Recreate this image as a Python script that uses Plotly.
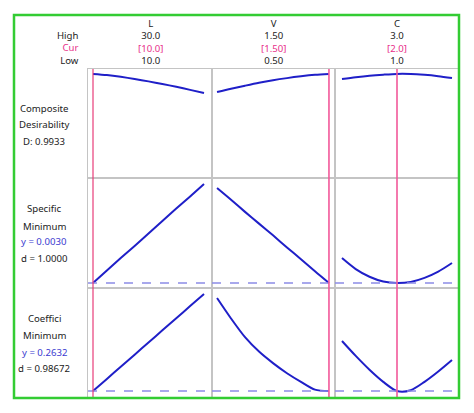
import plotly.graph_objects as go
from plotly.subplots import make_subplots

# ---------------- data ----------------
factors = ["L", "V", "C"]
high_labels = ["30.0", "1.50", "3.0"]
cur_labels = ["[10.0]", "[1.50]", "[2.0]"]
low_labels = ["10.0", "0.50", "1.0"]
cur_values = [10.0, 1.5, 2.0]

L_vals = [10.0, 12.5, 15.0, 17.5, 20.0, 22.5, 25.0, 27.5, 30.0]
V_vals = [0.5, 0.625, 0.75, 0.875, 1.0, 1.125, 1.25, 1.375, 1.5]
C_vals = [1.0, 1.25, 1.5, 1.75, 2.0, 2.25, 2.5, 2.75, 3.0]

# Composite desirability
D_L = [0.9933, 0.982, 0.965, 0.945, 0.922, 0.897, 0.870, 0.841, 0.811]
D_V = [0.8205, 0.852, 0.881, 0.909, 0.933, 0.953, 0.970, 0.984, 0.9933]
D_C = [0.945, 0.962, 0.976, 0.986, 0.9933, 0.9925, 0.984, 0.971, 0.954]

# Specific (minimum)
Spec_L = [0.0030, 0.0064, 0.0098, 0.0131, 0.0165, 0.0199, 0.0233, 0.0266, 0.0300]
Spec_V = [0.0289, 0.0257, 0.0224, 0.0192, 0.0160, 0.0127, 0.0095, 0.0062, 0.0030]
Spec_C = [0.0098, 0.0068, 0.0047, 0.0034, 0.0030, 0.0033, 0.0044, 0.0061, 0.00845]

# Coefficient (minimum)
Coef_L = [0.2632, 0.3053, 0.3474, 0.3895, 0.4316, 0.4737, 0.5158, 0.5579, 0.6000]
Coef_V = [0.586, 0.515, 0.45, 0.40, 0.36, 0.325, 0.295, 0.268, 0.2632]
Coef_C = [0.4368, 0.385, 0.337, 0.295, 0.2632, 0.266, 0.295, 0.331, 0.3708]

current_y = [0.9933, 0.0030, 0.2632]

row_labels = [
    [("Composite", "#222222"), ("Desirability", "#222222"), ("D: 0.9933", "#222222")],
    [("Specific", "#222222"), ("Minimum", "#222222"), ("y = 0.0030", "#3b3bd0"), ("d = 1.0000", "#222222")],
    [("Coeffici", "#222222"), ("Minimum", "#222222"), ("y = 0.2632", "#3b3bd0"), ("d = 0.98672", "#222222")],
]

x_data = [L_vals, V_vals, C_vals]
y_data = [[D_L, D_V, D_C], [Spec_L, Spec_V, Spec_C], [Coef_L, Coef_V, Coef_C]]

# ---------------- layout geometry ----------------
OFF = 8                      # page body margin
W, H = 474 - OFF, 413 - OFF
FONT = "Noto Sans"
FS = 9.6
PINK = "#e8308a"

x_ranges = [[9.10, 31.44], [0.455, 1.554], [0.873, 3.109]]
y_ranges = [[0.0, 1.04], [0.00164, 0.03164], [0.2424, 0.6208]]

def px(x):
    return (x - OFF) / W

def py(y):
    return 1 - (y - OFF) / H

plot_top, plot_bottom = 69, 397
col_edges = [88, 212, 335, 458]
row_edges = [69, 178, 288, 397]

fig = make_subplots(rows=3, cols=3, horizontal_spacing=0, vertical_spacing=0)

for r in range(3):
    for c in range(3):
        fig.add_trace(go.Scatter(
            x=x_data[c], y=y_data[r][c], mode="lines",
            line=dict(color="#1f1fc8", width=2, shape="spline", smoothing=0.8),
            hoverinfo="skip", showlegend=False), row=r + 1, col=c + 1)
        idx = r * 3 + c + 1
        sfx = "" if idx == 1 else str(idx)
        fig.layout["xaxis" + sfx].update(
            domain=[px(col_edges[c]), px(col_edges[c + 1])],
            range=x_ranges[c], showgrid=False, zeroline=False,
            showticklabels=False, ticks="", showline=True, mirror=True,
            linecolor="#c4c4c4", linewidth=1)
        fig.layout["yaxis" + sfx].update(
            domain=[py(row_edges[r + 1]), py(row_edges[r])],
            range=y_ranges[r], showgrid=False, zeroline=False,
            showticklabels=False, ticks="", showline=True, mirror=True,
            linecolor="#c4c4c4", linewidth=1)

shapes = []
for r in (1, 2):
    for c in range(3):
        idx = r * 3 + c + 1
        shapes.append(dict(type="line", xref="x" + str(idx), yref="y" + str(idx),
                           x0=x_ranges[c][0], x1=x_ranges[c][1],
                           y0=current_y[r], y1=current_y[r],
                           line=dict(color="#8c8ce6", width=1.5, dash="dash")))
pink_colors = ["#e83c78", "#f2589a", "#f2589a"]
pink_widths = [1.2, 1.6, 1.6]
for c in range(3):
    xr = "x" if c == 0 else "x" + str(c + 1)
    shapes.append(dict(type="line", xref=xr, yref="paper",
                       x0=cur_values[c], x1=cur_values[c],
                       y0=py(plot_bottom), y1=py(plot_top),
                       line=dict(color=pink_colors[c], width=pink_widths[c])))
shapes.append(dict(type="rect", xref="paper", yref="paper",
                   x0=px(14), x1=px(459), y0=py(398), y1=py(15),
                   line=dict(color="#33cc33", width=2.5)))

annotations = []
def txt(x, y, s, color="#222222", xanchor="center", yanchor="middle", align="center"):
    annotations.append(dict(x=px(x), y=py(y), xref="paper", yref="paper",
                            text=s, showarrow=False, xanchor=xanchor,
                            yanchor=yanchor, borderpad=0, align=align,
                            font=dict(family=FONT, size=FS, color=color)))

# High / Cur / Low legend block
txt(80, 48, "High<br><span style='color:%s'>Cur</span><br>Low" % PINK,
    xanchor="right", align="right")

centers = [150, 273.5, 396.5]
for c in range(3):
    txt(centers[c], 42.5,
        "%s<br>%s<br><span style='color:%s'>%s</span><br>%s"
        % (factors[c], high_labels[c], PINK, cur_labels[c], low_labels[c]))

row_text_y = [[108, 125, 141], [209, 226, 242, 258], [318, 335, 352, 368]]
for r in range(3):
    for (s, col), yy in zip(row_labels[r], row_text_y[r]):
        txt(44, yy, s, color=col)

fig.update_layout(
    width=W, height=H, margin=dict(l=0, r=0, t=0, b=0),
    paper_bgcolor="white", plot_bgcolor="white",
    shapes=shapes, annotations=annotations, showlegend=False,
    font=dict(family=FONT, size=FS),
)

fig.write_html("out.html")
